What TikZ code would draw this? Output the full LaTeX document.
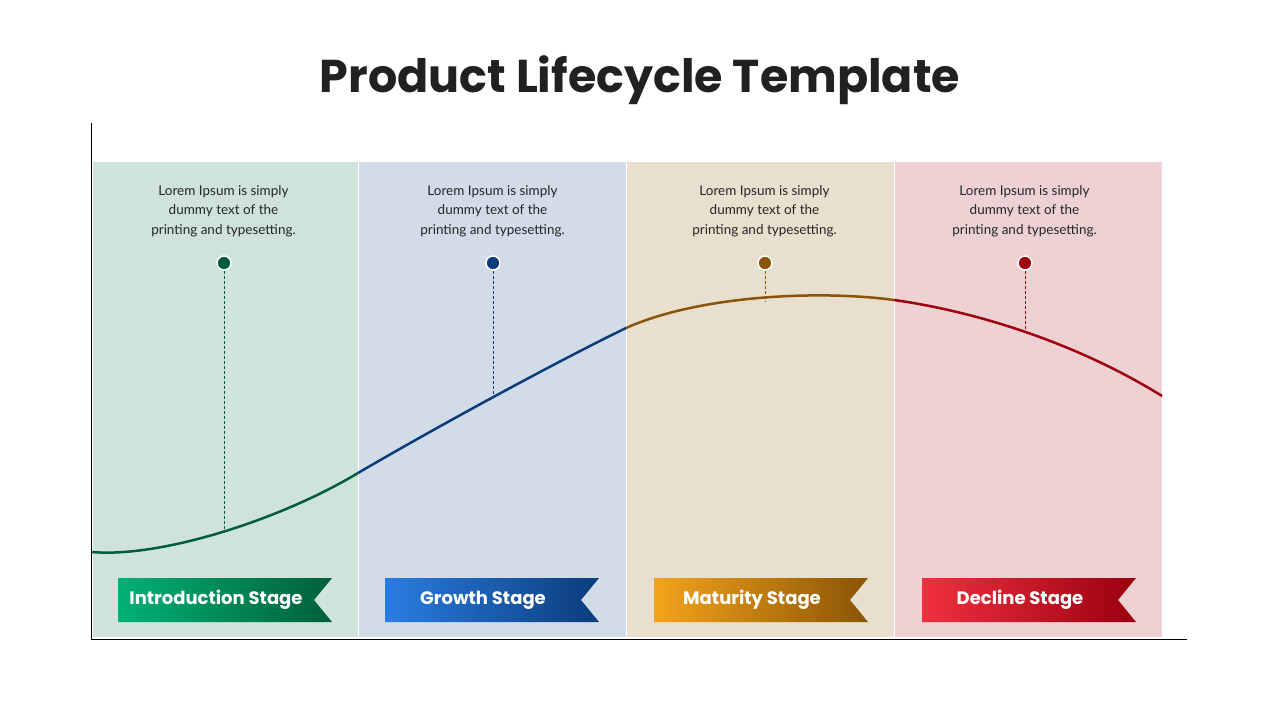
\documentclass[tikz,border=0pt]{standalone}
\usepackage{fontspec}
\setmainfont{Lato}
\newfontfamily\pop{Poppins}
\usetikzlibrary{calc}
\definecolor{gA}{HTML}{CFE2DC}\definecolor{bA}{HTML}{D2DCE8}\definecolor{tA}{HTML}{E8DFCF}\definecolor{rA}{HTML}{EDD1D3}
\definecolor{gL}{HTML}{00B274}\definecolor{gD}{HTML}{005F3A}\definecolor{gC}{HTML}{005F3A}
\definecolor{bL}{HTML}{2A7DE1}\definecolor{bD}{HTML}{0B3C7A}\definecolor{bC}{HTML}{0B3C7A}
\definecolor{tL}{HTML}{F3A41A}\definecolor{tD}{HTML}{8A5406}\definecolor{tC}{HTML}{8A5406}
\definecolor{rL}{HTML}{F0303F}\definecolor{rD}{HTML}{9A0010}\definecolor{rC}{HTML}{A00010}
\tikzset{
 panel/.style={draw=white,line width=0.8pt},
 desc/.style={align=center,font=\fontsize{13.5}{19.5}\selectfont,text=black!85},
 dot/.style={circle,draw=white,line width=1.5pt,minimum size=14pt,inner sep=0pt},
 leader/.style={dashed,line width=0.5pt,dash pattern=on 3pt off 2pt},
 curve/.style={line width=2.5pt},
 lab/.style={text=white,font=\pop\bfseries\fontsize{18}{20}\selectfont}
}
\begin{document}
\begin{tikzpicture}[x=1pt,y=-1pt]
\useasboundingbox (0,0) rectangle (1280,720);
\fill[white] (0,0) rectangle (1280,720);
\node[font=\pop\bfseries\fontsize{46}{50}\selectfont,text=black!87] (title) at (640,80) {Product Lifecycle Template};
\foreach \n/\x/\c in {p1/92/gA,p2/358/bA,p3/626/tA,p4/894/rA}{
 \path[fill=\c,panel] (\x,161) rectangle ++(268,476);
}
\draw[black,line width=0.8pt] (91,123) -- (91,639) -- (1187,639);
\foreach \n/\cx/\cc in {d1/224/gC,d2/493/bC,d3/765/tC,d4/1025/rC}{
 \node[desc] (t\n) at (\cx-0.5,211) {Lorem Ipsum is simply\\dummy text of the\\printing and typesetting.};
 \node[dot,fill=\cc] (\n) at (\cx,263) {};
}
\coordinate (c0) at (92,552); \coordinate (c1) at (358,473); \coordinate (c2) at (626,328);
\coordinate (c3) at (894,300); \coordinate (c4) at (1162,396);
\draw[curve,gC] (c0) .. controls (160,558) and (280,520) .. (c1);
\draw[curve,bC] (c1) .. controls (440,425) and (560,360) .. (c2);
\draw[curve,tC] (c2) .. controls (700,295) and (820,290) .. (c3);
\draw[curve,rC] (c3) .. controls (980,312) and (1080,345) .. (c4);
\coordinate (e1) at (224,532); \coordinate (e2) at (493,397); \coordinate (e3) at (765,301); \coordinate (e4) at (1025,332);
\draw[leader,gC] (d1) -- (e1);
\draw[leader,bC] (d2) -- (e2);
\draw[leader,tC] (d3) -- (e3);
\draw[leader,rC] (d4) -- (e4);
\foreach \n/\x/\l/\d/\t in {b1/118/gL/gD/Introduction Stage,b2/385/bL/bD/Growth Stage,b3/654/tL/tD/Maturity Stage,b4/922/rL/rD/Decline Stage}{
 \shade[left color=\l,right color=\d] (\x,578) -- ++(214,0) -- ++(-18,22) -- ++(18,22) -- ++(-214,0) -- cycle;
 \node[lab] (\n) at (\x+98,600) {\t};
}
\end{tikzpicture}
\end{document}
